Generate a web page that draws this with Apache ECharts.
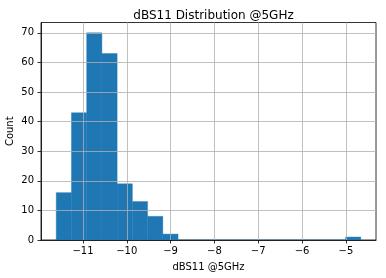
<!DOCTYPE html>
<html>
<head>
<meta charset="utf-8">
<script src="https://cdn.jsdelivr.net/npm/echarts@6/dist/echarts.min.js"></script>
<style>html,body{margin:0;padding:0;background:#fff}#c{width:386px;height:278px}</style>
</head>
<body>
<div id="c"></div>
<script>
const binEdges = [-11.61, -11.2625, -10.915, -10.5675, -10.22, -9.8725, -9.525, -9.1775, -8.83, -8.4825, -8.135, -7.7875, -7.44, -7.0925, -6.745, -6.3975, -6.05, -5.7025, -5.355, -5.0075, -4.66];
const counts = [16, 43, 70, 63, 19, 13, 8, 2, 0, 0, 0, 0, 0, 0, 0, 0, 0, 0, 0, 1];
const xTicks = [-11, -10, -9, -8, -7, -6, -5];
const yTicks = [0, 10, 20, 30, 40, 50, 60, 70];

const data = counts.map((c, i) => [binEdges[i], binEdges[i + 1], c]);
const font = 'DejaVu Sans';
const chart = echarts.init(document.getElementById('c'), null, {renderer: 'canvas'});
chart.setOption({
  animation: false,
  title: {
    text: 'dBS11 Distribution @5GHz',
    left: 208.5, top: 5, textAlign: 'center',
    textStyle: {fontFamily: font, fontSize: 12, fontWeight: 'normal', color: '#000'}
  },
  grid: {left: 41, right: 10, top: 22.5, bottom: 38, containLabel: false, outerBoundsMode: 'none',
    show: true, borderColor: '#000', borderWidth: 0.8, backgroundColor: 'transparent'},
  xAxis: {
    type: 'value', min: -11.9575, max: -4.3125, z: 5,
    name: 'dBS11 @5GHz', nameLocation: 'middle', nameGap: 22, nameMoveOverlap: false,
    nameTextStyle: {fontFamily: font, fontSize: 10, color: '#000'},
    axisLine: {show: true, onZero: false, lineStyle: {color: '#000', width: 0.8}},
    axisTick: {show: true, inside: false, length: 3.5, customValues: xTicks, lineStyle: {color: '#000', width: 0.8}},
    axisLabel: {customValues: xTicks, margin: 6, fontFamily: font, fontSize: 10, color: '#000',
      formatter: v => (v < 0 ? '\u2212' + Math.abs(v) : String(v))},
    splitLine: {show: true, lineStyle: {color: '#b0b0b0', width: 0.8}}
  },
  yAxis: {
    type: 'value', min: 0, max: 73.5, z: 5,
    name: 'Count', nameLocation: 'middle', nameGap: 26, nameRotate: 90, nameMoveOverlap: false,
    nameTextStyle: {fontFamily: font, fontSize: 10, color: '#000'},
    axisLine: {show: true, lineStyle: {color: '#000', width: 0.8}},
    axisTick: {show: true, inside: false, length: 3.5, customValues: yTicks, lineStyle: {color: '#000', width: 0.8}},
    axisLabel: {customValues: yTicks, margin: 7, fontFamily: font, fontSize: 10, color: '#000'},
    splitLine: {show: true, lineStyle: {color: '#b0b0b0', width: 0.8}}
  },
  series: [{
    type: 'custom',
    data: data,
    encode: {x: [0, 1], y: 2},
    renderItem: function (params, api) {
      const p0 = api.coord([api.value(0), api.value(2)]);
      const p1 = api.coord([api.value(1), 0]);
      return {type: 'rect', shape: {x: p0[0], y: p0[1], width: p1[0] - p0[0], height: p1[1] - p0[1]},
        style: {fill: '#1f77b4', stroke: '#1f77b4', lineWidth: 0.4}};
    }
  }]
});
</script>
</body>
</html>
